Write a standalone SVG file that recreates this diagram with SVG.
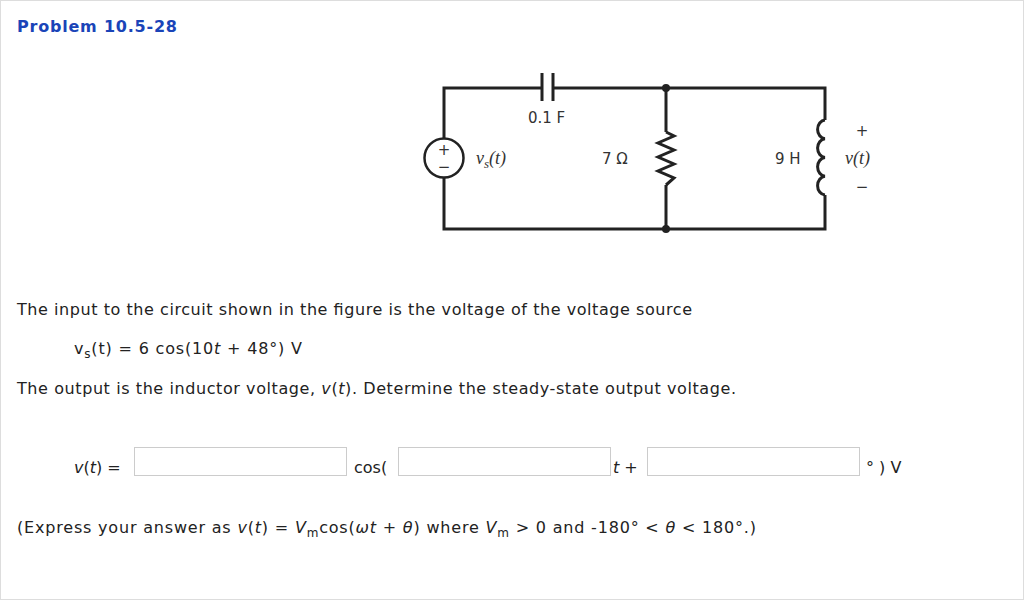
<svg xmlns="http://www.w3.org/2000/svg" width="1024" height="600" viewBox="0 0 1024 600">
<style>
.w{fill:none;stroke:#222;stroke-width:3}
.t{font-family:"DejaVu Sans","Liberation Sans",sans-serif;font-size:16px;fill:#222}
.c{font-family:"DejaVu Sans","Liberation Sans",sans-serif;font-size:15px;fill:#333}
.m{font-family:"Liberation Serif",serif;font-style:italic;font-size:18px;fill:#333}
.b{fill:#fff;stroke:#ccc;stroke-width:1}
</style>
<rect x="0.5" y="0.5" width="1023" height="599" fill="#fff" stroke="#ddd"/>
<text x="17" y="32" font-family="DejaVu Sans,Liberation Sans,sans-serif" font-size="16" font-weight="bold" fill="#1a44b8" textLength="160">Problem 10.5-28</text>
<g id="connectors">
<path class="w" d="M542 88H444V138M444 178V229H825V195M825 120V88H553M666 88V132M666 185V229"/>
<path class="w" d="M666 132L674 136L658 143L674 150L658 157L674 164L658 171L674 178L666 185"/>
<path class="w" d="M825 120a8 9.4 0 0 0 0 18.75a8 9.4 0 0 0 0 18.75a8 9.4 0 0 0 0 18.75a8 9.4 0 0 0 0 18.75"/>
</g>
<g id="capacitor"><path class="w" d="M542 73V101M553 73V101"/><text class="c" x="528" y="123">0.1 F</text></g>
<g id="source"><circle cx="444" cy="158" r="19.5" fill="#fff" stroke="#222" stroke-width="2.5"/><text class="c" x="444" y="155" text-anchor="middle" font-size="14">+</text><text class="c" x="444" y="172" text-anchor="middle" font-size="14">−</text><text class="m" x="476" y="164">v<tspan font-size="13" dy="4">s</tspan><tspan dy="-4">(t)</tspan></text></g>
<circle cx="666" cy="88" r="4" fill="#222"/><circle cx="666" cy="229" r="4" fill="#222"/>
<g id="resistor"><text class="c" x="602" y="164">7  Ω</text></g>
<g id="inductor"><text class="c" x="775" y="164">9 H</text><text class="c" x="862" y="136" text-anchor="middle">+</text><text class="m" x="845" y="164">v(t)</text><text class="c" x="862" y="192" text-anchor="middle">−</text></g>
<text class="t" x="17" y="315" textLength="675">The input to the circuit shown in the figure is the voltage of the voltage source</text>
<text class="t" x="74" y="354" textLength="228">v<tspan font-size="12" dy="4">s</tspan><tspan dy="-4">(t) = 6 cos(10</tspan><tspan font-style="italic">t</tspan> + 48°) V</text>
<text class="t" x="17" y="394" textLength="719">The output is the inductor voltage, <tspan font-style="italic">v</tspan>(<tspan font-style="italic">t</tspan>). Determine the steady-state output voltage.</text>
<text class="t" x="74" y="473"><tspan font-style="italic">v</tspan>(<tspan font-style="italic">t</tspan>) =</text>
<rect class="b" x="134.5" y="447.5" width="212" height="28"/>
<text class="t" x="354" y="473">cos(</text>
<rect class="b" x="398.5" y="447.5" width="212" height="28"/>
<text class="t" x="613" y="473"><tspan font-style="italic">t</tspan> +</text>
<rect class="b" x="647.5" y="447.5" width="212" height="28"/>
<text class="t" x="866" y="473">° ) V</text>
<text class="t" x="17" y="533" textLength="739">(Express your answer as <tspan font-style="italic">v</tspan>(<tspan font-style="italic">t</tspan>) = <tspan font-style="italic">V</tspan><tspan font-size="12" dy="4">m</tspan><tspan dy="-4">cos(</tspan><tspan font-style="italic">ωt</tspan> + <tspan font-style="italic">θ</tspan>) where <tspan font-style="italic">V</tspan><tspan font-size="12" dy="4">m</tspan><tspan dy="-4"> &gt; 0 and -180° &lt; </tspan><tspan font-style="italic">θ</tspan> &lt; 180°.)</text>
</svg>
